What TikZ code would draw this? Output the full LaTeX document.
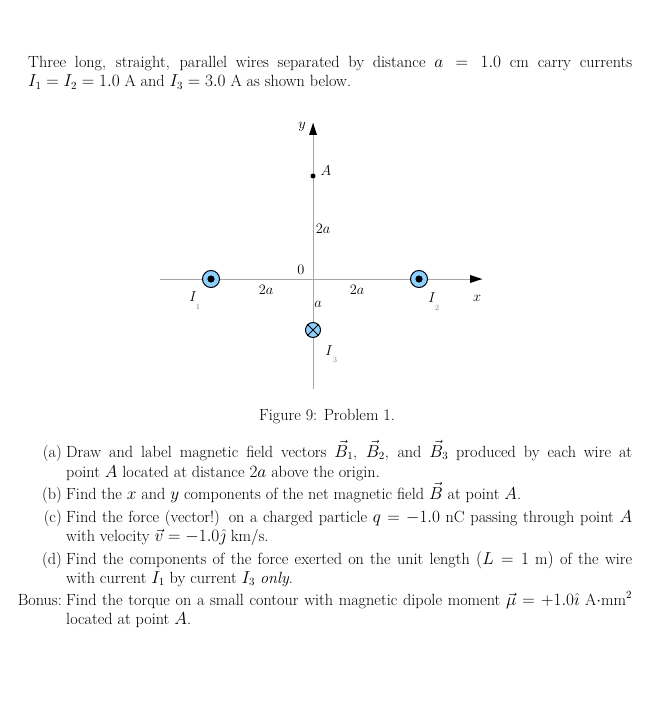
\documentclass[tikz,border=0pt]{standalone}
\usepackage{amsmath}
\begin{document}
\begin{tikzpicture}[x=1pt,y=-1pt,
  txt/.style={anchor=base west,inner sep=0pt,font=\fontsize{16.2}{19}\selectfont},
  lbl/.style={anchor=base east,inner sep=0pt,font=\fontsize{16.2}{19}\selectfont},
  fl/.style={inner sep=0pt,font=\fontsize{15}{17}\selectfont},
  sub/.style={inner sep=0pt,font=\fontsize{8}{9}\selectfont,text=gray},
  wire/.style={circle,draw=black,fill=blue!40!cyan!45!white,line width=1pt,minimum size=17pt,inner sep=0pt},
  ax/.style={draw=gray!70,line width=0.8pt}]
\useasboundingbox (0,0) rectangle (655,703);
% text
\node[txt] (t1) at (28,68) {\hbox to 604pt{Three long, straight, parallel wires separated by distance $a=1.0$ cm carry currents}};
\node[txt] (t2) at (28,87) {$I_1=I_2=1.0$ A and $I_3=3.0$ A as shown below.};
% figure
\coordinate (O) at (313,279);
\coordinate (xl) at (160,279);
\coordinate (xr) at (482,279);
\coordinate (yb) at (313,389);
\coordinate (yt) at (313,123);
\draw[ax] (xl) -- (xr);
\draw[ax] (yb) -- (yt);
\fill (xr) -- ++(-12,-4) -- ++(0,8) -- cycle;
\fill (yt) -- ++(-4,12) -- ++(8,0) -- cycle;
\node[wire] (w1) at (211,279) {};
\fill (w1) circle (3.6pt);
\node[wire] (w2) at (419,279) {};
\fill (w2) circle (3.6pt);
\node[wire,minimum size=15pt] (w3) at (313,330) {};
\draw[line width=0.9pt] (w3.north west) -- (w3.south east) (w3.north east) -- (w3.south west);
\fill (313,176) circle (2.5pt) coordinate (A);
\node[fl] (ly) at (302,127) {$y$};
\node[fl] (lA) at (326,171) {$A$};
\node[fl] (l2a) at (323,229) {$2a$};
\node[fl] (l0) at (301,270) {$0$};
\node[fl] (l2l) at (266,290) {$2a$};
\node[fl] (l2r) at (357,290) {$2a$};
\node[fl] (la) at (318,304) {$a$};
\node[fl] (lx) at (477,298) {$x$};
\node[fl] (i1) at (193,297) {$I$};
\node[sub] (s1) at (198,307) {1};
\node[fl] (i2) at (432,298) {$I$};
\node[sub] (s2) at (437,308) {2};
\node[fl] (i3) at (329,351) {$I$};
\node[sub] (s3) at (335,360) {3};
% caption
\node[txt,anchor=base] (cap) at (327,420) {Figure 9: Problem 1.};
% items
\node[lbl] (a) at (62,457) {(a)};
\node[txt] (a1) at (66,457) {\hbox to 566pt{Draw and label magnetic field vectors $\vec B_1$, $\vec B_2$, and $\vec B_3$ produced by each wire at}};
\node[txt] (a2) at (66,477) {point $A$ located at distance $2a$ above the origin.};
\node[lbl] (b) at (62,499) {(b)};
\node[txt] (b1) at (66,499) {Find the $x$ and $y$ components of the net magnetic field $\vec B$ at point $A$.};
\node[lbl] (c) at (62,522) {(c)};
\node[txt] (c1) at (66,522) {\hbox to 566pt{Find the force (vector!) on a charged particle $q=-1.0$ nC passing through point $A$}};
\node[txt] (c2) at (66,541) {with velocity $\vec v=-1.0\hat\jmath$ km/s.};
\node[lbl] (d) at (62,564) {(d)};
\node[txt] (d1) at (66,564) {\hbox to 566pt{Find the components of the force exerted on the unit length $(L=1$ m$)$ of the wire}};
\node[txt] (d2) at (66,583) {with current $I_1$ by current $I_3$ \textit{only}.};
\node[lbl] (bo) at (62,605) {Bonus:};
\node[txt] (bo1) at (66,605) {\hbox to 566pt{Find the torque on a small contour with magnetic dipole moment $\vec\mu=+1.0\hat\imath$ A$\cdot$mm$^2$}};
\node[txt] (bo2) at (66,624) {located at point $A$.};
\end{tikzpicture}
\end{document}
